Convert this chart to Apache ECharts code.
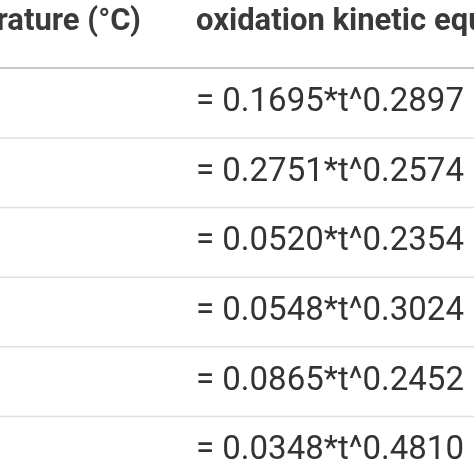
<!DOCTYPE html>
<html><head><meta charset="utf-8">
<script src="https://cdn.jsdelivr.net/npm/echarts@6/dist/echarts.min.js"></script>
<style>html,body{margin:0;padding:0;background:#fff}#c{width:474px;height:474px}</style>
</head><body><div id="c"></div>
<script>
const headers = ["Temperature (°C)", "oxidation kinetic equation"];
const coefA = ["0.1695", "0.2751", "0.0520", "0.0548", "0.0865", "0.0348"];
const expB = ["0.2897", "0.2574", "0.2354", "0.3024", "0.2452", "0.4810"];

const chart = echarts.init(document.getElementById('c'));
const g = [];
const rowH = 69.6, firstY = 102, font = 'Roboto, "Noto Sans", sans-serif';
g.push({type:'text', x:141, y:22, style:{text:headers[0], fill:'#3a3a3a', font:'bold 31px '+font, textAlign:'right', textVerticalAlign:'middle'}});
g.push({type:'text', x:196, y:22, style:{text:headers[1], fill:'#3a3a3a', font:'bold 31px '+font, textAlign:'left', textVerticalAlign:'middle'}});
g.push({type:'line', shape:{x1:0,y1:68,x2:474,y2:68}, style:{stroke:'#c8c8c8', lineWidth:2}});
coefA.forEach((a,i)=>{
  const y = firstY + i*rowH;
  g.push({type:'text', x:196, y:y+1, style:{text:'= '+a+'*t^'+expB[i], fill:'#333', font:'33px '+font, textAlign:'left', textVerticalAlign:'middle'}});
  if (i < coefA.length-1) g.push({type:'line', shape:{x1:0,y1:y+36,x2:474,y2:y+36}, style:{stroke:'#e0e0e0', lineWidth:1.5}});
});
chart.setOption({animation:false, graphic:g});
</script></body></html>
